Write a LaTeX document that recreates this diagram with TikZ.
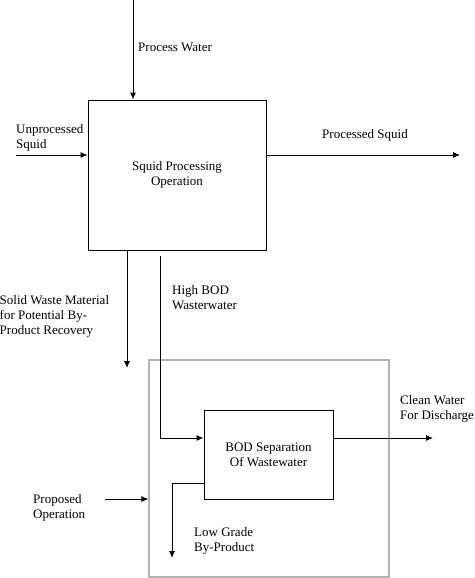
\documentclass[tikz,border=0pt]{standalone}
\usepackage{fontspec}
\setmainfont{Liberation Serif}
\usetikzlibrary{arrows.meta}
\begin{document}
\begin{tikzpicture}[x=1pt,y=-1pt,
  every node/.style={font=\fontsize{13}{15}\selectfont},
  box/.style={draw, line width=0.9pt, align=center, inner sep=0pt},
  outerbox/.style={draw=gray!60, line width=1.1pt, inner sep=0pt},
  lbl/.style={anchor=west, align=left, inner sep=0pt},
  flow/.style={line width=0.9pt, -{Latex[length=7pt,width=6pt]}},
  plain/.style={line width=0.9pt}]
\useasboundingbox (0,0) rectangle (474,578);
% boxes
\node[box, minimum width=178pt, minimum height=150pt] (main) at (177,175) {Squid Processing\\Operation};
\node[outerbox, minimum width=240pt, minimum height=217pt] (outer) at (269,468.5) {};
\node[box, minimum width=129pt, minimum height=89pt] (bod) at (268.5,454.5) {BOD Separation\\Of Wastewater};
% coordinates
\coordinate (pw) at (133,0);
\coordinate (up) at (16,155);
\coordinate (ps) at (460,155);
\coordinate (sw) at (127,368);
\coordinate (hb) at (160,256);
\coordinate (hbend) at (160,438);
\coordinate (cw) at (433,438);
\coordinate (lg1) at (172,483);
\coordinate (lg2) at (172,558);
\coordinate (po) at (105,499);
% connectors
\draw[flow] (pw) -- (pw |- main.north);
\draw[flow] (up) -- (up -| main.west);
\draw[flow] (main.east |- ps) -- (ps);
\draw[flow] (sw |- main.south) -- (sw);
\draw[flow] (hb) -- (hbend) -- (hbend -| bod.west);
\draw[flow] (cw -| bod.east) -- (cw);
\draw[flow] (bod.west |- lg1) -- (lg1) -- (lg2);
\draw[flow] (po) -- (po -| outer.west);
% labels
\node[lbl] (lpw) at (138,47) {Process Water};
\node[lbl] (lup) at (16,138) {Unprocessed\\Squid};
\node[lbl] (lps) at (322,135) {Processed Squid};
\node[lbl] (lsw) at (-0.5,316) {Solid Waste Material\\for Potential By-\\Product Recovery};
\node[lbl] (lhb) at (172,298) {High BOD\\Wasterwater};
\node[lbl] (lcw) at (400,408.5) {Clean Water\\For Discharge};
\node[lbl] (llg) at (194,541) {Low Grade\\By-Product};
\node[lbl] (lpo) at (33,508) {Proposed\\Operation};
\end{tikzpicture}
\end{document}
